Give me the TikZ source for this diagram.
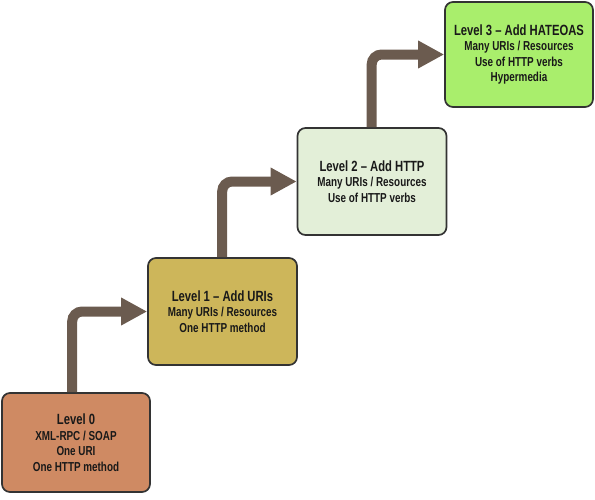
\documentclass[tikz,border=0pt]{standalone}
\usepackage{fontspec}
\setmainfont{Liberation Sans}[FakeStretch=0.76]
\usetikzlibrary{arrows.meta}
\definecolor{arrowc}{HTML}{6B5B4F}
\definecolor{edgec}{HTML}{333333}
\definecolor{c0}{HTML}{CF8A63}
\definecolor{c1}{HTML}{CDB65A}
\definecolor{c2}{HTML}{E3EFD8}
\definecolor{c3}{HTML}{A9EE6C}
\tikzset{
  levelbox/.style={draw=edgec, line width=1.7pt, rounded corners=8pt, align=center,
    text=black!90, inner sep=0pt, font=\bfseries\fontsize{13}{15.5}\selectfont},
  arr/.style={draw=arrowc, line width=10pt, rounded corners=10pt,
    -{Triangle[width=26pt,length=26pt]}}
}
\newcommand{\ttl}[1]{{\fontsize{14.8}{16}\selectfont #1}}
\begin{document}
\begin{tikzpicture}[x=1pt,y=-1pt]
\useasboundingbox (0,0) rectangle (595,499);
\node[levelbox, fill=c0, minimum width=148pt, minimum height=99pt] (b0) at (76,442.5)
  {\ttl{Level 0}\\XML-RPC / SOAP\\One URI\\One HTTP method};
\node[levelbox, fill=c1, minimum width=149pt, minimum height=107pt] (b1) at (222.5,311.5)
  {\ttl{Level 1 – Add URIs}\\Many URIs / Resources\\One HTTP method};
\node[levelbox, fill=c2, minimum width=149pt, minimum height=107pt] (b2) at (372,181.5)
  {\ttl{Level 2 – Add HTTP}\\Many URIs / Resources\\Use of HTTP verbs};
\node[levelbox, fill=c3, minimum width=148pt, minimum height=105pt] (b3) at (519,54.5)
  {\ttl{Level 3 – Add HATEOAS}\\Many URIs / Resources\\Use of HTTP verbs\\Hypermedia};
\draw[arr] ([xshift=71pt]b0.north west) |- (b1.west);
\draw[arr] ([xshift=75pt]b1.north west) |- (b2.west);
\draw[arr] ([xshift=75pt]b2.north west) |- (b3.west);
\end{tikzpicture}
\end{document}
